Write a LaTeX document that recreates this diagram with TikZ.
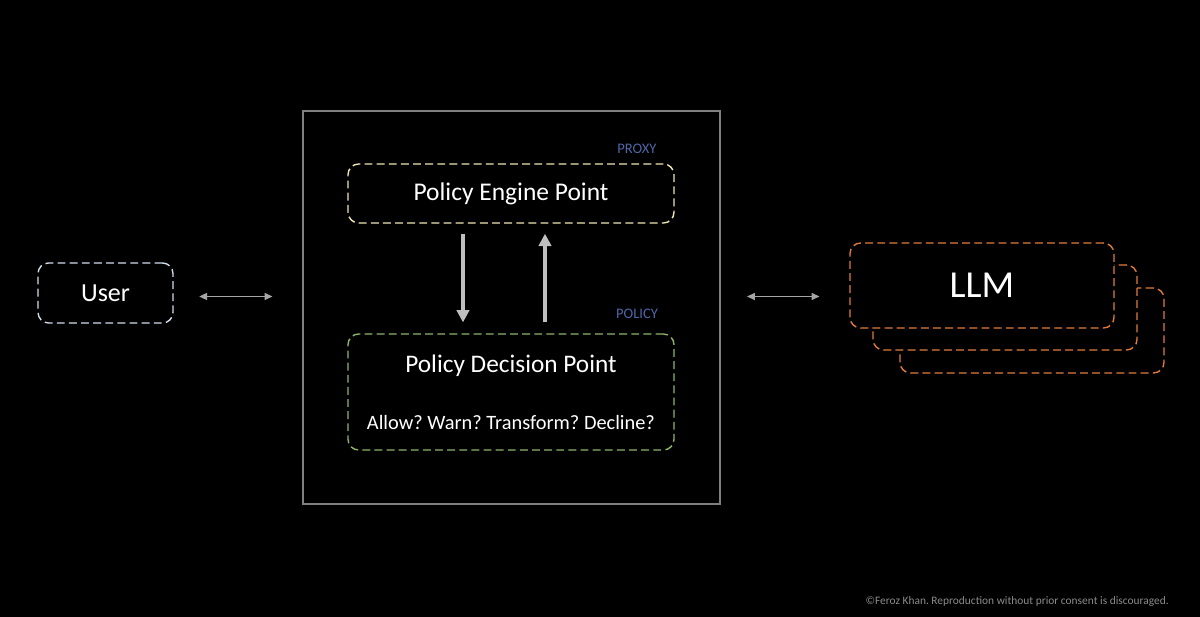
\documentclass[tikz,border=0pt]{standalone}
\usepackage{fontspec}
\setmainfont{Carlito}
\usepackage{tikz}
\usetikzlibrary{arrows.meta,positioning,calc}
\definecolor{userblue}{HTML}{D0DEEC}
\definecolor{pepcream}{HTML}{EFE6B4}
\definecolor{pdpgreen}{HTML}{8DB56C}
\definecolor{llmorange}{HTML}{E07B39}
\definecolor{framegray}{HTML}{7F7F7F}
\definecolor{arrgray}{HTML}{A6A6A6}
\definecolor{fatgray}{HTML}{BFBFBF}
\definecolor{tagblue}{HTML}{4F67A8}
\definecolor{notegray}{HTML}{8C8C8C}
\frenchspacing

\begin{document}
\begin{tikzpicture}[x=0.02cm,y=-0.02cm,
  dbox/.style={draw,dash pattern=on 4.5pt off 2.4pt,rounded corners=6pt,line width=0.8pt,fill=black,text=white,inner sep=0pt,font=\fontsize{14.5}{17}\selectfont},
  tag/.style={font=\fontsize{8.3}{10}\selectfont,text=tagblue},
  biarr/.style={{Triangle[length=4.5pt,width=4pt]}-{Triangle[length=4.5pt,width=4pt]},line width=0.8pt,draw=arrgray},
  fatarr/.style={-{Triangle[length=7pt,width=7pt]},line width=2.3pt,draw=fatgray}]
\fill[black] (0,0) rectangle (1200,617);
\node[dbox,draw=userblue,minimum width=2.7cm,minimum height=1.2cm,font=\fontsize{14.8}{17}\selectfont] (user) at (105.5,293) {User};
\node[draw=framegray,line width=0.8pt,minimum width=8.34cm,minimum height=7.86cm,inner sep=0pt] (proxy) at (511.5,307.5) {};
\node[dbox,draw=pepcream,minimum width=6.52cm,minimum height=1.18cm] (pep) at (511,193.5) {Policy Engine Point};
\node[dbox,draw=pdpgreen,minimum width=6.52cm,minimum height=2.32cm] (pdp) at (511,392) {};
\node[text=white,font=\fontsize{14.4}{17}\selectfont] (pdptitle) at (511,366) {Policy Decision Point};
\node[text=white,font=\fontsize{11.6}{14}\selectfont] (pdpask) at (511,423) {Allow? Warn? Transform? Decline?};
\node[tag] (proxytag) at (637,149) {PROXY};
\node[tag] (policytag) at (637,314) {POLICY};
% stacked model boxes, back to front
\node[dbox,draw=llmorange,minimum width=5.28cm,minimum height=1.7cm] (llmC) at (1032,330.5) {};
\node[dbox,draw=llmorange,minimum width=5.28cm,minimum height=1.7cm] (llmB) at (1005,307.5) {};
\node[dbox,draw=llmorange,minimum width=5.28cm,minimum height=1.7cm,font=\fontsize{21.7}{26}\selectfont] (llm) at (982,285.5) {LLM};
\node[anchor=east,text=notegray,font=\fontsize{6.5}{8}\selectfont] (note) at (1175,602) {©Feroz Khan. Reproduction without prior consent is discouraged.};
\coordinate (mid) at (0,296.5);
\draw[biarr,shorten <=14.5pt,shorten >=17pt] (user.east |- mid) -- (proxy.west |- mid);
\draw[biarr,shorten <=15pt,shorten >=17pt] (proxy.east |- mid) -- (llm.west |- mid);
\draw[fatarr,shorten <=5.7pt,shorten >=6.2pt] ($(pep.south)+(-48,0)$) -- ($(pdp.north)+(-48,0)$);
\draw[fatarr,shorten <=6.2pt,shorten >=5.7pt] ($(pdp.north)+(34,0)$) -- ($(pep.south)+(34,0)$);
\end{tikzpicture}
\end{document}
